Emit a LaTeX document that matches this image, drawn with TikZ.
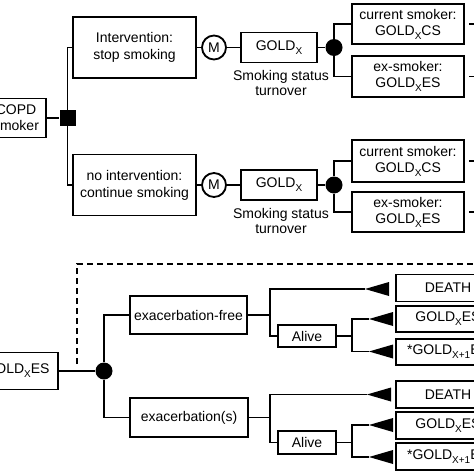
\documentclass[tikz,border=0pt]{standalone}
\usepackage{fontspec}
\setmainfont{Liberation Sans}
\newcommand{\sbx}[1]{\raisebox{-0.28em}{\fontsize{10}{10}\selectfont #1}}
\newcommand{\termtri}[1]{\fill (#1) -- ++(24,-7) -- ++(0,14) -- cycle;}
\tikzset{
  box/.style={draw, line width=1.85pt, inner sep=0pt, align=center, font=\fontsize{14}{16}\selectfont},
  conn/.style={line width=1.85pt},
  dotnode/.style={circle, fill=black, inner sep=0pt, minimum size=17pt},
  sqnode/.style={rectangle, fill=black, inner sep=0pt, minimum size=16pt},
  mcirc/.style={circle, draw, line width=1.85pt, inner sep=0pt, minimum size=24pt, font=\fontsize{14}{16}\selectfont},
  lbl/.style={align=center, inner sep=0pt, font=\fontsize{14}{15.5}\selectfont},
}
\begin{document}
\begin{tikzpicture}[x=1pt,y=-1pt]
\useasboundingbox (0,0) rectangle (474,474);
\clip (0,0) rectangle (474,474);
% ---------- upper tree ----------
\node[box, minimum width=60pt, minimum height=39pt] (copd) at (16,118) {COPD\\smoker};
\node[sqnode] (sq) at (67.5,118) {};
\node[box, minimum width=123pt, minimum height=61pt, font=\fontsize{14}{17}\selectfont] (int) at (134.5,47.5) {Intervention:\\stop smoking};
\node[box, minimum width=123pt, minimum height=61pt, font=\fontsize{14}{17}\selectfont] (noint) at (134.5,185) {no intervention:\\continue smoking};
\node[mcirc] (m1) at (214,47.5) {M};
\node[mcirc] (m2) at (214,185) {M};
\node[box, minimum width=76pt, minimum height=30pt] (g1) at (279,47.5) {GOLD\sbx{X}};
\node[box, minimum width=76pt, minimum height=30pt] (g2) at (279,185) {GOLD\sbx{X}};
\node[lbl] (t1) at (281,83) {Smoking status\\turnover};
\node[lbl] (t2) at (281,221) {Smoking status\\turnover};
\node[dotnode] (d1) at (334,47.5) {};
\node[dotnode] (d2) at (334,185) {};
\node[box, minimum width=112pt, minimum height=40pt] (cs1) at (408,24) {current smoker:\\GOLD\sbx{X}CS};
\node[box, minimum width=112pt, minimum height=41pt] (es1) at (408,76.5) {ex-smoker:\\GOLD\sbx{X}ES};
\node[box, minimum width=112pt, minimum height=42pt] (cs2) at (408,161) {current smoker:\\GOLD\sbx{X}CS};
\node[box, minimum width=112pt, minimum height=40pt] (es2) at (408,212) {ex-smoker:\\GOLD\sbx{X}ES};
\coordinate (s1a) at (469,24);  \coordinate (s1b) at (480,24);
\coordinate (s2a) at (469,76.5);  \coordinate (s2b) at (480,76.5);
\coordinate (s3a) at (469,161); \coordinate (s3b) at (480,161);
\coordinate (s4a) at (469,212); \coordinate (s4b) at (480,212);
\draw[conn] (copd) -- (sq);
\draw[conn] (sq) |- (int.west);
\draw[conn] (sq) |- (noint.west);
\draw[conn] (int) -- (m1);
\draw[conn] (noint) -- (m2);
\draw[conn] (m1) -- (g1);
\draw[conn] (m2) -- (g2);
\draw[conn] (g1) -- (d1);
\draw[conn] (g2) -- (d2);
\draw[conn] (d1) |- (cs1.west);
\draw[conn] (d1) |- (es1.west);
\draw[conn] (d2) |- (cs2.west);
\draw[conn] (d2) |- (es2.west);
\draw[conn] (s1a) -- (s1b);
\draw[conn] (s2a) -- (s2b);
\draw[conn] (s3a) -- (s3b);
\draw[conn] (s4a) -- (s4b);
% ---------- lower tree ----------
\node[box, minimum width=82pt, minimum height=37pt] (gxes) at (17,371) {GOLD\sbx{X}ES};
\node[dotnode] (d3) at (104,371) {};
\coordinate (dsa) at (77,364);
\coordinate (dsb) at (480,264);
\draw[conn, line width=1.7pt, dash pattern=on 6pt off 4pt] (dsa) |- (dsb);
\node[box, minimum width=117pt, minimum height=38pt] (exf) at (188.5,315) {exacerbation-free};
\node[box, minimum width=118pt, minimum height=39pt] (exs) at (189,417.5) {exacerbation(s)};
\coordinate (j1) at (270,315);
\coordinate (j2) at (270,417.5);
\node[box, minimum width=58pt, minimum height=22pt] (al1) at (307,336) {Alive};
\node[box, minimum width=58pt, minimum height=23pt] (al2) at (307,442.5) {Alive};
\coordinate (j3) at (352,336);
\coordinate (j4) at (352,442.5);
\coordinate (ta1) at (365,289);
\coordinate (ta2) at (369,319);
\coordinate (ta3) at (369,351.5);
\coordinate (ta4) at (367,394.5);
\coordinate (ta5) at (369,425);
\coordinate (ta6) at (369,457);
\termtri{ta1} \termtri{ta2} \termtri{ta3}
\termtri{ta4} \termtri{ta5} \termtri{ta6}
\node[box, minimum width=104pt, minimum height=27pt] (de1) at (448,288) {DEATH};
\node[box, minimum width=104pt, minimum height=26pt] (ge1) at (448,319) {GOLD\sbx{X}ES};
\node[box, minimum width=104pt, minimum height=26pt] (gp1) at (448,352) {*GOLD\sbx{X+1}ES};
\node[box, minimum width=104pt, minimum height=27pt] (de2) at (448,394.5) {DEATH};
\node[box, minimum width=104pt, minimum height=27pt] (ge2) at (448,425.5) {GOLD\sbx{X}ES};
\node[box, minimum width=104pt, minimum height=27pt] (gp2) at (448,456.5) {*GOLD\sbx{X+1}ES};
\draw[conn] (gxes) -- (d3);
\draw[conn] (d3) |- (exf.west);
\draw[conn] (d3) |- (exs.west);
\draw[conn] (exf) -- (j1);
\draw[conn] (exs) -- (j2);
\draw[conn] (j1) |- (ta1);
\draw[conn] (j1) |- (al1.west);
\draw[conn] (j2) |- (ta4);
\draw[conn] (j2) |- (al2.west);
\draw[conn] (al1) -- (j3);
\draw[conn] (al2) -- (j4);
\draw[conn] (j3) |- (ta2);
\draw[conn] (j3) |- (ta3);
\draw[conn] (j4) |- (ta5);
\draw[conn] (j4) |- (ta6);
\end{tikzpicture}
\end{document}
